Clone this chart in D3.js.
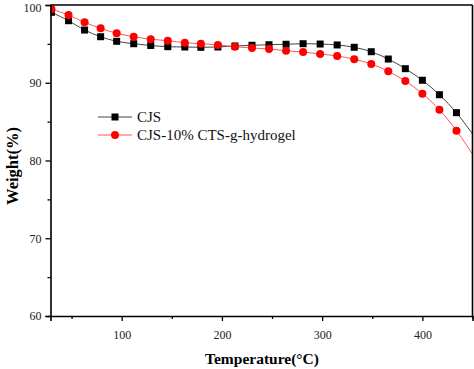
<!DOCTYPE html>
<html><head><meta charset="utf-8">
<script src="https://cdn.jsdelivr.net/npm/d3@7/dist/d3.min.js"></script>
<style>
html,body{margin:0;padding:0;background:#fff;}
svg{display:block;font-family:"Liberation Serif","Times New Roman",serif;}
</style></head>
<body><svg id="c" width="474" height="369"></svg>
<script>
const temps = [30,47,63,79,95,112,129,146,163,179,196,213,230,247,264,281,298,315,332,349,366,383,400,417,434];
const cjs = [99.06,97.98,96.78,95.92,95.33,95.02,94.79,94.64,94.60,94.56,94.60,94.73,94.82,94.89,94.95,95.02,94.98,94.86,94.56,93.99,93.05,91.81,90.32,88.46,86.15];
const hydrogel = [99.45,98.71,97.77,97.00,96.36,95.92,95.60,95.41,95.15,95.02,94.86,94.64,94.47,94.34,94.12,93.95,93.70,93.44,93.02,92.41,91.47,90.23,88.59,86.53,83.83];
const endTemp = 450;
const cjsEnd = 83.41;
const hydrogelEnd = 80.84;
const xTicks = [100,200,300,400];
const xMinor = [50,150,250,350,450];
const yTicks = [60,70,80,90,100];
const yMinor = [65,75,85,95];
const seriesNames = ["CJS","CJS-10% CTS-g-hydrogel"];

const svg = d3.select("#c");
const L=50.5, R=472.5, T=5, B=316;
const x = d3.scaleLinear().domain([29,450]).range([L,R]);
const y = d3.scaleLinear().domain([60,100]).range([B,T]);

svg.append("defs").append("clipPath").attr("id","clip")
  .append("rect").attr("x",L).attr("y",T).attr("width",R-L).attr("height",B-T);

const g = svg.append("g").attr("clip-path","url(#clip)");
const line = d3.line().x(d=>x(d[0])).y(d=>y(d[1])).curve(d3.curveCatmullRom);

function series(vals, endVal, lineColor, fill, shape){
  const pts = temps.map((t,i)=>[t,vals[i]]).concat([[endTemp,endVal]]);
  g.append("path").datum(pts).attr("d",line).attr("fill","none")
    .attr("stroke",lineColor).attr("stroke-width",1);
  const m = g.selectAll(null).data(temps.map((t,i)=>[t,vals[i]])).enter();
  if(shape==="square"){
    m.append("rect").attr("x",d=>x(d[0])-3.5).attr("y",d=>y(d[1])-3.5)
      .attr("width",7).attr("height",7).attr("fill",fill);
  } else {
    m.append("circle").attr("cx",d=>x(d[0])).attr("cy",d=>y(d[1])).attr("r",4).attr("fill",fill);
  }
}
series(cjs, cjsEnd, "#444", "#000", "square");
series(hydrogel, hydrogelEnd, "#f55", "#f00", "circle");

// axes
const xAxis = svg.append("g").attr("transform",`translate(0,${B})`)
  .call(d3.axisBottom(x).tickValues(xTicks).tickSize(5).tickPadding(9).tickFormat(d3.format("d")));
const xAxisMinor = svg.append("g").attr("transform",`translate(0,${B})`)
  .call(d3.axisBottom(x).tickValues(xMinor).tickSize(3).tickFormat(""));
const yAxis = svg.append("g").attr("transform",`translate(${L},0)`)
  .call(d3.axisLeft(y).tickValues(yTicks).tickSize(5).tickPadding(4).tickFormat(d3.format("d")));
const yAxisMinor = svg.append("g").attr("transform",`translate(${L},0)`)
  .call(d3.axisLeft(y).tickValues(yMinor).tickSize(3).tickFormat(""));
[xAxis,xAxisMinor,yAxis,yAxisMinor].forEach(a=>{
  a.select(".domain").attr("stroke","#000").attr("stroke-width",1.6);
  a.selectAll(".tick line").attr("stroke","#000").attr("stroke-width",1.3);
  a.selectAll("text").attr("font-family","Liberation Serif, serif").attr("font-size",12).attr("fill","#222");
});
// keep the top "100" label inside the picture
yAxis.selectAll(".tick text").filter(d=>d===100).attr("dy","0.5em");
xAxisMinor.select(".domain").remove();
yAxisMinor.select(".domain").remove();
// frame top & right
svg.append("line").attr("x1",L).attr("x2",R).attr("y1",T).attr("y2",T).attr("stroke","#000").attr("stroke-width",1.6);
svg.append("line").attr("x1",R).attr("x2",R).attr("y1",T).attr("y2",B).attr("stroke","#000").attr("stroke-width",1.6);

// titles
svg.append("text").attr("x",262).attr("y",364).attr("text-anchor","middle")
  .attr("font-weight","bold").attr("font-size",15.5).text("Temperature(°C)");
svg.append("text").attr("transform","translate(18,166) rotate(-90)").attr("text-anchor","middle")
  .attr("font-weight","bold").attr("font-size",16.5).text("Weight(%)");

// legend
const leg = svg.append("g");
const rows = [{name:seriesNames[0],line:"#444",fill:"#000",shape:"square",yy:117},
              {name:seriesNames[1],line:"#f55",fill:"#f00",shape:"circle",yy:135}];
rows.forEach(r=>{
  leg.append("line").attr("x1",98).attr("x2",132).attr("y1",r.yy).attr("y2",r.yy).attr("stroke",r.line).attr("stroke-width",1);
  if(r.shape==="square") leg.append("rect").attr("x",111.5).attr("y",r.yy-3.5).attr("width",7).attr("height",7).attr("fill",r.fill);
  else leg.append("circle").attr("cx",115).attr("cy",r.yy).attr("r",4).attr("fill",r.fill);
  leg.append("text").attr("x",137).attr("y",r.yy+5).attr("font-size",15).attr("fill","#111").text(r.name);
});
</script></body></html>
